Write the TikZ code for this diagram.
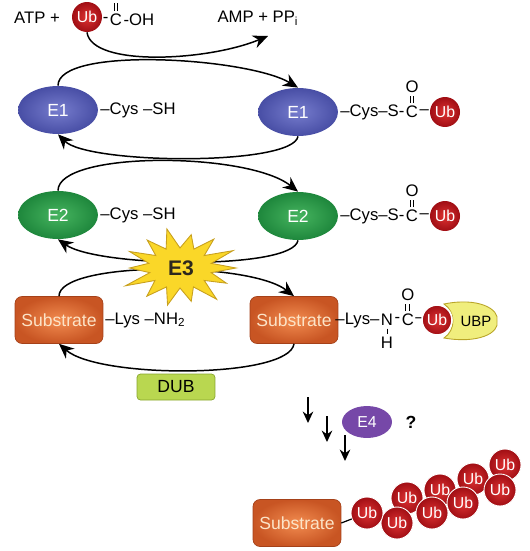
\documentclass[tikz,border=0pt]{standalone}
\usepackage{fontspec}
\setmainfont{Liberation Sans}
\usetikzlibrary{arrows.meta,positioning,shapes.geometric}

\definecolor{ubin}{RGB}{222,50,50}
\definecolor{ubout}{RGB}{160,14,20}
\definecolor{eonein}{RGB}{118,124,205}
\definecolor{eoneout}{RGB}{72,78,165}
\definecolor{etwoin}{RGB}{70,180,95}
\definecolor{etwoout}{RGB}{30,135,60}
\definecolor{subin}{RGB}{242,140,80}
\definecolor{subout}{RGB}{200,85,35}
\definecolor{subline}{RGB}{165,65,25}
\definecolor{dubfill}{RGB}{185,215,80}
\definecolor{dubline}{RGB}{135,165,45}
\definecolor{starfill}{RGB}{250,215,40}
\definecolor{starline}{RGB}{200,160,30}
\definecolor{efourcol}{RGB}{118,72,168}
\definecolor{ubpfill}{RGB}{240,238,125}
\definecolor{ubpline}{RGB}{185,165,40}

\tikzset{
  chem/.style={inner sep=0pt, font=\fontsize{9.5}{11}\selectfont},
  ub/.style={circle, minimum size=0.6cm, inner sep=0pt, inner color=ubin,
    outer color=ubout, text=white, font=\fontsize{9}{10}\selectfont},
  ubbig/.style={ub, minimum size=0.64cm, draw=white, line width=0.5pt},
  eone/.style={ellipse, minimum width=1.6cm, minimum height=0.96cm,
    inner color=eonein, outer color=eoneout, text=white,
    font=\fontsize{10}{12}\selectfont},
  etwo/.style={eone, inner color=etwoin, outer color=etwoout},
  efour/.style={ellipse, minimum width=1.0cm, minimum height=0.5cm,
    fill=efourcol, text=white, font=\fontsize{9}{10}\selectfont},
  subbox/.style={rectangle, rounded corners=4pt, minimum width=1.76cm,
    minimum height=0.94cm, draw=subline, inner color=subin, outer color=subout,
    text={rgb,255:red,252;green,228;blue,200}, font=\fontsize{10}{12}\selectfont},
  dubbox/.style={rectangle, rounded corners=2pt, minimum width=1.56cm,
    minimum height=0.52cm, draw=dubline, fill=dubfill,
    font=\fontsize{10}{12}\selectfont},
  cyc/.style={line width=0.85pt, -{Stealth[length=8.5pt,width=7.5pt]}},
  darr/.style={line width=0.75pt, -{Stealth[length=6.5pt,width=6pt]}},
  bond/.style={line width=0.55pt},
  estar/.style={draw=starline, fill=starfill, line width=0.5pt, line join=miter},
}

\begin{document}
\begin{tikzpicture}[x=0.02cm, y=-0.02cm]
  \useasboundingbox (0,0) rectangle (530,551);

  %%%%% top reaction %%%%%
  \node[chem] (atp) at (37,18) {ATP +};
  \node[ub] (ub0) at (87,17) {Ub};
  \node[chem] (c0) at (116,20) {C};
  \node[chem, left=0.5pt of c0] {-};
  \node[chem, right=0.5pt of c0] {-OH};
  \draw[bond] ([xshift=-1.1pt,yshift=1.5pt]c0.north) -- ++(0,-8);
  \draw[bond] ([xshift=1.1pt,yshift=1.5pt]c0.north) -- ++(0,-8);
  \node[chem] (amp) at (258,18) {AMP + PP\textsubscript{i}};
  \coordinate (amptip) at (268,36);

  %%%%% E1 %%%%%
  \node[eone] (e1a) at (58,110) {E1};
  \node[chem, right=1pt of e1a] {--Cys --SH};
  \node[eone] (e1b) at (298,112) {E1};
  \node[chem] (c1) at (412,112) {C};
  \node[chem, left=0.5pt of c1] {--Cys--S-};
  \node[chem, right=0.5pt of c1] (b1) {--};
  \node[chem, above=7pt of c1] (o1) {O};
  \draw[bond] ([xshift=-1.1pt,yshift=1.5pt]c1.north) -- ([xshift=-1.1pt,yshift=-1.5pt]o1.south);
  \draw[bond] ([xshift=1.1pt,yshift=1.5pt]c1.north) -- ([xshift=1.1pt,yshift=-1.5pt]o1.south);
  \node[ub] (ub1) at (445,112) {Ub};

  %%%%% E2 %%%%%
  \node[etwo] (e2a) at (58,215) {E2};
  \node[chem, right=1pt of e2a] {--Cys --SH};
  \node[etwo] (e2b) at (298,216) {E2};
  \node[chem] (c2) at (412,216) {C};
  \node[chem, left=0.5pt of c2] {--Cys--S-};
  \node[chem, right=0.5pt of c2] (b2) {--};
  \node[chem, above=7pt of c2] (o2) {O};
  \draw[bond] ([xshift=-1.1pt,yshift=1.5pt]c2.north) -- ([xshift=-1.1pt,yshift=-1.5pt]o2.south);
  \draw[bond] ([xshift=1.1pt,yshift=1.5pt]c2.north) -- ([xshift=1.1pt,yshift=-1.5pt]o2.south);
  \node[ub] (ub2) at (445,216) {Ub};

  %%%%% substrates %%%%%
  \node[subbox] (suba) at (59,320) {Substrate};
  \node[chem, right=1pt of suba] {--Lys --NH\textsubscript{2}};
  \node[subbox] (subb) at (294,320) {Substrate};
  \node[chem] (n3) at (387,320) {N};
  \node[chem, left=0.5pt of n3] {--Lys--};
  \node[chem, right=0.5pt of n3] (d3) {-};
  \node[chem, right=0.5pt of d3] (c3) {C};
  \node[chem, right=0.5pt of c3] (b3) {--};
  \node[chem, above=7pt of c3] (o3) {O};
  \node[chem, below=6pt of n3] (h3) {H};
  \draw[bond] ([xshift=-1.1pt,yshift=1.5pt]c3.north) -- ([xshift=-1.1pt,yshift=-1.5pt]o3.south);
  \draw[bond] ([xshift=1.1pt,yshift=1.5pt]c3.north) -- ([xshift=1.1pt,yshift=-1.5pt]o3.south);
  \draw[bond] ([yshift=-1.5pt]n3.south) -- ([yshift=1.5pt]h3.north);
  \draw[draw=ubpline, fill=ubpfill, line width=0.5pt]
    (444,304) .. controls (478,297) and (500,309) .. (497,321)
    .. controls (500,333) and (478,344) .. (444,338)
    .. controls (456,330) and (456,312) .. (444,304) -- cycle;
  \node[chem, font=\fontsize{8.5}{10}\selectfont] (ubp) at (476,321) {UBP};
  \node[ub, draw=white, line width=0.9pt] (ub3) at (437,320) {Ub};

  %%%%% cycle arrows %%%%%
  \draw[cyc] (ub0.south) .. controls +(5,35) and +(-60,25) .. (amptip);
  \draw[cyc] (e1a.north) .. controls +(0,-40) and +(-50,-30) .. (e1b.north);
  \draw[cyc] (e1b.south) .. controls +(-5,30) and +(30,30) .. (e1a.south);
  \draw[cyc] (e2a.north) .. controls +(0,-40) and +(-50,-40) .. (e2b.north);
  \draw[cyc] (e2b.south) .. controls +(-5,30) and +(40,28) .. (e2a.south);
  \draw[cyc] (suba.north) .. controls +(0,-35) and +(-45,-35) .. (subb.north);
  \draw[cyc] (subb.south) .. controls +(-5,35) and +(40,35) .. (suba.south);

  %%%%% E3 star %%%%%
  \draw[estar, shift={(180,268)}]
    (0:56 and 38) -- (12.86:32 and 21) -- (25.71:51.5 and 35) -- (38.57:31 and 20)
    -- (51.43:58.8 and 40) -- (64.29:31 and 21) -- (77.14:50.4 and 34.2) -- (90:32 and 20)
    -- (102.86:56 and 38) -- (115.71:31 and 21) -- (128.57:53.2 and 36.1) -- (141.43:32 and 20)
    -- (154.29:60.5 and 41) -- (167.14:31 and 21) -- (180:50.4 and 34.2) -- (192.86:32 and 21)
    -- (205.71:56 and 38) -- (218.57:31 and 20) -- (231.43:52.6 and 35.7) -- (244.29:32 and 21)
    -- (257.14:58.8 and 40) -- (270:31 and 20) -- (282.86:50.4 and 34.2) -- (295.71:32 and 21)
    -- (308.57:54.3 and 36.9) -- (321.43:31 and 20) -- (334.29:58.8 and 40) -- (347.14:32 and 21)
    -- cycle;
  \node[font=\bfseries\fontsize{12}{14}\selectfont, text={rgb,255:red,45;green,40;blue,30}] (e3) at (181,268) {E3};

  %%%%% DUB %%%%%
  \node[dubbox] (dub) at (176,387) {DUB};

  %%%%% E4 and chain %%%%%
  \foreach \x/\y in {308/397, 327/416, 345/435}
    \draw[darr] (\x,\y) -- ++(0,26);
  \node[efour] (e4) at (367,422) {E4};
  \node[font=\bfseries\fontsize{10}{12}\selectfont, right=4pt of e4] (qm) {?};

  \node[subbox] (subc) at (297,523) {Substrate};
  \foreach \x/\y [count=\i] in {505/465, 473/479, 440/490, 407/498, 500/490, 463/503, 432/513, 397/523}
    \node[ubbig] (ubc\i) at (\x,\y) {Ub};
  \node[ubbig] (ubfirst) at (367,513) {Ub};
  \draw[line width=0.7pt] (subc.east) -- (ubfirst);
\end{tikzpicture}
\end{document}
